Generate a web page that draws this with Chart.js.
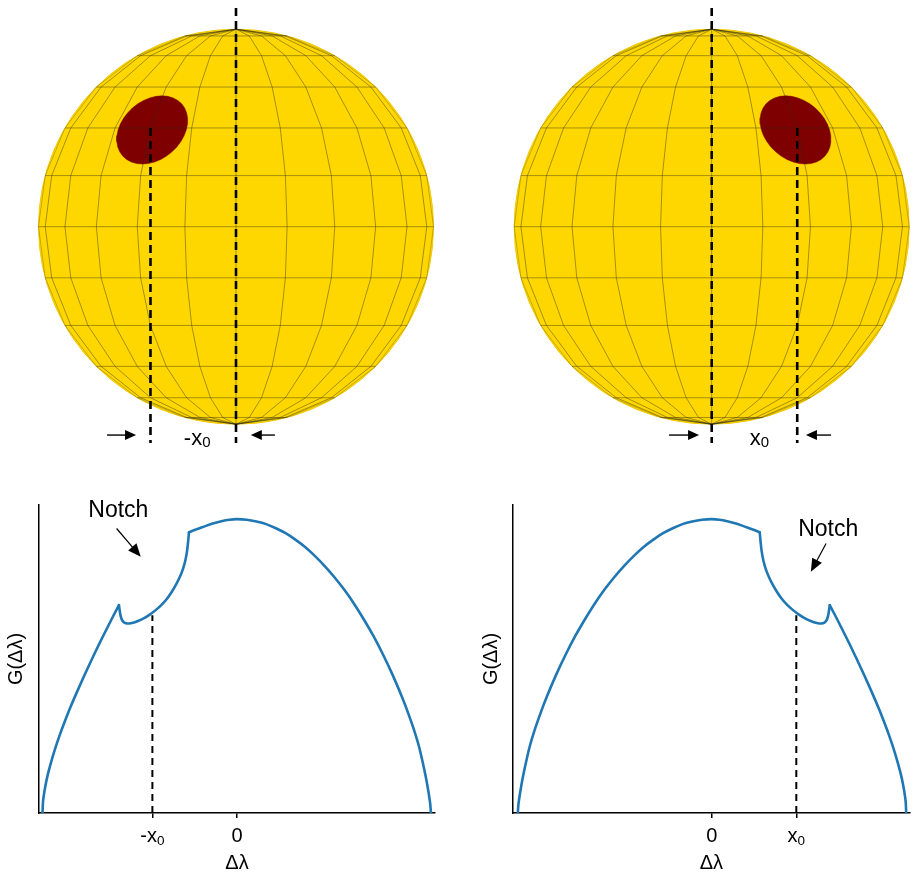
<!DOCTYPE html>
<html>
<head>
<meta charset="utf-8">
<script src="https://cdn.jsdelivr.net/npm/chart.js@4.4.1/dist/chart.umd.min.js"></script>
<style>
  html, body { margin: 0; padding: 0; background: #ffffff; }
  #wrap { position: relative; width: 918px; height: 879px; overflow: hidden; background: #fff; }
  #wrap canvas { position: absolute; }
</style>
</head>
<body>
<div id="wrap">
  <canvas id="sphereL" width="459" height="460" style="left:0px;top:0px"></canvas>
  <canvas id="sphereR" width="459" height="460" style="left:459px;top:0px"></canvas>
  <canvas id="profL" width="459" height="389" style="left:0px;top:490px"></canvas>
  <canvas id="profR" width="459" height="389" style="left:459px;top:490px"></canvas>
</div>
<script>
// ---------------- DATA ----------------
// Sphere grid (degrees) — faceted latitude/longitude mesh seen equator-on
const parallelLatitudes = [-75, -60, -45, -30, -15, 0, 15, 30, 45, 60, 75];
const meridianLongitudes = [-90, -75, -60, -45, -30, -15, 0, 15, 30, 45, 60, 75, 90];
const meridianNodeLatitudes = [-90, -75, -60, -45, -30, -15, 0, 15, 30, 45, 60, 75, 90];
// Star spot (degrees)
const spotLatitude = 30;
const spotLongitudeLeft = -30;
const spotLongitudeRight = 30;
const spotRadiusDeg = 11.5;
const spotOutlineAngles = [0, 10, 20, 30, 40, 50, 60, 70, 80, 90, 100, 110, 120, 130, 140, 150, 160, 170,
  180, 190, 200, 210, 220, 230, 240, 250, 260, 270, 280, 290, 300, 310, 320, 330, 340, 350, 360];
// Vertical guide lines (units of stellar radius)
const guideTop = 1.107;
const guideBottom = -1.095;

// Line profiles G(Δλ) (Δλ in units of v sin i, G normalised to the peak)
const x0 = 0.435;
const markerTopG = 0.673;
const leftDeltaLambda = [
  -1.000, -0.998, -0.993, -0.985, -0.972, -0.955, -0.935, -0.912, -0.885, -0.855, -0.822, -0.785,
  -0.745, -0.705, -0.665, -0.635, -0.607,
  -0.601, -0.594, -0.585, -0.572, -0.555, -0.535, -0.510, -0.480, -0.447, -0.415, -0.387, -0.360,
  -0.336, -0.313, -0.293, -0.278, -0.266, -0.257, -0.251, -0.247,
  -0.225, -0.200, -0.160, -0.120, -0.080, -0.040, 0.000, 0.050, 0.100, 0.150, 0.200, 0.250, 0.300,
  0.350, 0.400, 0.450, 0.500, 0.550, 0.600, 0.650, 0.700, 0.750, 0.800, 0.850, 0.880, 0.910, 0.935,
  0.955, 0.970, 0.981, 0.989, 0.994, 0.997];
const leftG = [
  0.000, 0.032, 0.061, 0.093, 0.133, 0.175, 0.219, 0.264, 0.312, 0.362, 0.413, 0.468,
  0.525, 0.580, 0.633, 0.672, 0.707,
  0.680, 0.661, 0.651, 0.646, 0.645, 0.647, 0.653, 0.662, 0.676, 0.692, 0.709, 0.729,
  0.752, 0.778, 0.805, 0.830, 0.858, 0.890, 0.925, 0.955,
  0.961, 0.967, 0.977, 0.986, 0.993, 0.998, 1.000, 0.998, 0.992, 0.983, 0.969, 0.952, 0.930,
  0.905, 0.875, 0.841, 0.803, 0.761, 0.714, 0.661, 0.604, 0.540, 0.470, 0.392, 0.340, 0.283, 0.228,
  0.172, 0.125, 0.085, 0.052, 0.027, 0.000];
const leftBreaks = [16, 36];   // spike, top of the jump
const rightDeltaLambda = [
  -0.997, -0.994, -0.989, -0.981, -0.970, -0.955, -0.935, -0.910, -0.880, -0.850, -0.800, -0.750,
  -0.700, -0.650, -0.600, -0.550, -0.500, -0.450, -0.400, -0.350, -0.300, -0.250, -0.200, -0.150,
  -0.100, -0.050, 0.000, 0.040, 0.080, 0.120, 0.160, 0.200, 0.225,
  0.247, 0.251, 0.257, 0.266, 0.278, 0.293, 0.313, 0.336, 0.360, 0.387, 0.415, 0.447, 0.480,
  0.510, 0.535, 0.555, 0.572, 0.585, 0.594, 0.601,
  0.607, 0.635, 0.665, 0.705, 0.745, 0.785, 0.822, 0.855, 0.885, 0.912, 0.935, 0.955, 0.972,
  0.985, 0.993, 0.998, 1.000];
const rightG = [
  0.000, 0.027, 0.052, 0.085, 0.125, 0.172, 0.228, 0.283, 0.340, 0.392, 0.470, 0.540,
  0.604, 0.661, 0.714, 0.761, 0.803, 0.841, 0.875, 0.905, 0.930, 0.952, 0.969, 0.983,
  0.992, 0.998, 1.000, 0.998, 0.993, 0.986, 0.977, 0.967, 0.961,
  0.955, 0.925, 0.890, 0.858, 0.830, 0.805, 0.778, 0.752, 0.729, 0.709, 0.692, 0.676, 0.662,
  0.653, 0.647, 0.645, 0.646, 0.651, 0.661, 0.680,
  0.707, 0.672, 0.633, 0.580, 0.525, 0.468, 0.413, 0.362, 0.312, 0.264, 0.219, 0.175, 0.133,
  0.093, 0.061, 0.032, 0.000];
const rightBreaks = [33, 53];  // top of the jump, spike
const leftTickValues = [-x0, 0];
const leftTickLabels = [[{ t: '-x' }, { t: '0', sub: true }], [{ t: '0' }]];
const rightTickValues = [0, x0];
const rightTickLabels = [[{ t: '0' }], [{ t: 'x' }, { t: '0', sub: true }]];

// ---------------- STYLE / LAYOUT ----------------
const FONT = "'Liberation Sans', Arial, Helvetica, sans-serif";
const GOLD = '#FFD700';
const SPOT = '#7F0000';
const GRID = 'rgba(40,40,30,0.55)';
const RIM = 'rgba(40,40,30,0.35)';
const BLUE = '#1f77b4';
const SPHERE_R_PX = 197.5, SPHERE_CY_PX = 226.7, SPHERE_H = 460, SPHERE_W = 459;
const D = Math.PI / 180;

function project(latDeg, lonDeg) {
  const la = latDeg * D, lo = lonDeg * D;
  return { x: Math.cos(la) * Math.sin(lo), y: Math.sin(la) };
}
function spotOutline(lat, lon, rad) {
  const la = lat * D, lo = lon * D, r = rad * D;
  const c = [Math.cos(la) * Math.sin(lo), Math.sin(la)];
  const e1 = [Math.cos(lo), 0];
  const e2 = [-Math.sin(la) * Math.sin(lo), Math.cos(la)];
  return spotOutlineAngles.map(t => {
    const k1 = Math.sin(r) * Math.cos(t * D), k2 = Math.sin(r) * Math.sin(t * D);
    return { x: Math.cos(r) * c[0] + k1 * e1[0] + k2 * e2[0], y: Math.cos(r) * c[1] + k1 * e1[1] + k2 * e2[1] };
  });
}

function drawParts(ctx, parts, cx, baseY, size, subSize, subDy) {
  const fonts = parts.map(p => (p.sub ? subSize : size) + 'px ' + FONT);
  const widths = parts.map((p, i) => { ctx.font = fonts[i]; return ctx.measureText(p.t).width; });
  const total = widths.reduce((a, b) => a + b, 0);
  let x = cx - total / 2;
  ctx.textAlign = 'left'; ctx.textBaseline = 'alphabetic'; ctx.fillStyle = '#000';
  parts.forEach((p, i) => { ctx.font = fonts[i]; ctx.fillText(p.t, x, baseY + (p.sub ? subDy : 0)); x += widths[i]; });
}

const sketchNotes = {
  id: 'sketchNotes',
  afterDatasetsDraw(chart, _args, opts) {
    const { ctx } = chart;
    const sx = chart.scales.x, sy = chart.scales.y;
    const px = v => sx.getPixelForValue(v), py = v => sy.getPixelForValue(v);
    ctx.save();
    for (const a of (opts.arrows || [])) {
      const x1 = px(a.from[0]), y1 = py(a.from[1]), x2 = px(a.to[0]), y2 = py(a.to[1]);
      const dx = x2 - x1, dy = y2 - y1, len = Math.hypot(dx, dy), ux = dx / len, uy = dy / len;
      const L = a.head, W = a.half;
      ctx.strokeStyle = '#000'; ctx.lineWidth = a.width; ctx.lineCap = 'butt';
      ctx.beginPath(); ctx.moveTo(x1, y1); ctx.lineTo(x2 - ux * L * 0.7, y2 - uy * L * 0.7); ctx.stroke();
      ctx.fillStyle = '#000';
      ctx.beginPath(); ctx.moveTo(x2, y2);
      ctx.lineTo(x2 - ux * L - uy * W, y2 - uy * L + ux * W);
      ctx.lineTo(x2 - ux * L + uy * W, y2 - uy * L - ux * W);
      ctx.closePath(); ctx.fill();
    }
    for (const t of (opts.texts || [])) {
      drawParts(ctx, t.parts, px(t.x), py(t.y) + (t.dy || 0), t.size, t.subSize || t.size, t.subDy || 0);
    }
    ctx.restore();
  }
};

function sphereChart(id, cxPx, spotLon, notes) {
  const spotCenter = project(spotLatitude, spotLon);
  const datasets = [];
  datasets.push({
    data: [{ x: 0, y: 0 }], order: 10, showLine: false,
    pointRadius: c => c.chart.scales.x.getPixelForValue(1) - c.chart.scales.x.getPixelForValue(0),
    pointBackgroundColor: GOLD, pointBorderColor: '#F2C800', pointBorderWidth: 1, clip: false
  });
  datasets.push({
    data: spotOutline(spotLatitude, spotLon, spotRadiusDeg), order: 9, showLine: true,
    fill: 'shape', backgroundColor: SPOT, borderColor: SPOT, borderWidth: 0.5, pointRadius: 0
  });
  meridianLongitudes.forEach(lon => datasets.push({
    data: meridianNodeLatitudes.map(lat => project(lat, lon)), order: 8, showLine: true,
    borderColor: Math.abs(lon) === 90 ? RIM : GRID, borderWidth: 0.75, pointRadius: 0, fill: false
  }));
  parallelLatitudes.forEach(lat => datasets.push({
    data: [project(lat, -90), project(lat, 90)], order: 8, showLine: true,
    borderColor: GRID, borderWidth: 0.75, pointRadius: 0, fill: false
  }));
  datasets.push({
    data: [{ x: 0, y: guideTop }, { x: 0, y: guideBottom }], order: 1, showLine: true,
    borderColor: '#000', borderWidth: 2.6, borderDash: [8, 5], pointRadius: 0, fill: false, clip: false
  });
  datasets.push({
    data: [{ x: spotCenter.x, y: spotCenter.y }, { x: spotCenter.x, y: guideBottom }], order: 1, showLine: true,
    borderColor: '#000', borderWidth: 2.6, borderDash: [8, 5], pointRadius: 0, fill: false, clip: false
  });
  return new Chart(document.getElementById(id), {
    type: 'scatter',
    data: { datasets },
    plugins: [sketchNotes],
    options: {
      responsive: false, animation: false, events: [],
      layout: { padding: 0 },
      scales: {
        x: { type: 'linear', display: false, min: -cxPx / SPHERE_R_PX, max: (SPHERE_W - cxPx) / SPHERE_R_PX },
        y: { type: 'linear', display: false, min: -(SPHERE_H - SPHERE_CY_PX) / SPHERE_R_PX, max: SPHERE_CY_PX / SPHERE_R_PX }
      },
      plugins: { legend: { display: false }, tooltip: { enabled: false }, sketchNotes: notes }
    }
  });
}

function segmentsOf(xs, ys, breaks) {
  const cuts = [0, ...breaks, xs.length - 1], segs = [];
  for (let i = 0; i < cuts.length - 1; i++) {
    const pts = [];
    for (let j = cuts[i]; j <= cuts[i + 1]; j++) pts.push({ x: xs[j], y: ys[j] });
    segs.push(pts);
  }
  return segs;
}

function profileChart(id, xs, ys, breaks, markerX, tickValues, tickLabels, xmin, xmax, padLeft, yWidth, padRight, notes) {
  const datasets = segmentsOf(xs, ys, breaks).map(pts => ({
    data: pts, showLine: true, borderColor: BLUE, borderWidth: 2.6, pointRadius: 0,
    cubicInterpolationMode: 'monotone', borderCapStyle: 'round', borderJoinStyle: 'round', fill: false, order: 1
  }));
  datasets.push({
    data: [{ x: markerX, y: 0 }, { x: markerX, y: markerTopG }], showLine: true, borderColor: '#000',
    borderWidth: 2, borderDash: [7, 5], pointRadius: 0, fill: false, order: 2
  });
  const tickTexts = tickValues.map((v, i) => ({ parts: tickLabels[i], x: v, y: 0, dy: 28.7, size: 20, subSize: 13.5, subDy: 3.5 }));
  notes.texts = (notes.texts || []).concat(tickTexts);
  return new Chart(document.getElementById(id), {
    type: 'scatter',
    data: { datasets },
    plugins: [sketchNotes],
    options: {
      responsive: false, animation: false, events: [],
      layout: { padding: { left: padLeft, right: padRight, top: 15, bottom: 0 } },
      scales: {
        x: {
          type: 'linear', min: xmin, max: xmax,
          afterBuildTicks: s => { s.ticks = tickValues.map(v => ({ value: v })); },
          ticks: { display: false, autoSkip: false, maxRotation: 0 },
          grid: { display: true, drawOnChartArea: false, drawTicks: true, tickLength: 5, color: '#000', lineWidth: 1.5 },
          border: { display: true, color: '#000', width: 1.5 },
          title: { display: true, text: '\u0394\u03BB', color: '#000', font: { family: FONT, size: 20 }, padding: { top: 0, bottom: 4 } },
          afterFit: s => { s.height = 66; }
        },
        y: {
          type: 'linear', min: 0, max: 1.048,
          ticks: { display: false }, grid: { display: false },
          border: { display: true, color: '#000', width: 1.5 },
          title: { display: true, text: 'G(\u0394\u03BB)', color: '#000', font: { family: FONT, size: 20 }, padding: { top: 4, bottom: 0 } },
          afterFit: s => { s.width = yWidth; }
        }
      },
      plugins: { legend: { display: false }, tooltip: { enabled: false }, sketchNotes: notes }
    }
  });
}

// ---------------- CHARTS ----------------
const spotL = project(spotLatitude, spotLongitudeLeft).x;
const spotR = project(spotLatitude, spotLongitudeRight).x;
sphereChart('sphereL', 236, spotLongitudeLeft, {
  arrows: [
    { from: [-0.653, -1.055], to: [-0.506, -1.055], head: 11, half: 5, width: 1.4 },
    { from: [0.197, -1.055], to: [0.075, -1.055], head: 11, half: 5, width: 1.4 }
  ],
  texts: [{ parts: [{ t: '-x' }, { t: '0', sub: true }], x: spotL / 2 + 0.02, y: -1.105, size: 22, subSize: 15, subDy: 2 }]
});
sphereChart('sphereR', 252.7, spotLongitudeRight, {
  arrows: [
    { from: [-0.216, -1.055], to: [-0.064, -1.055], head: 11, half: 5, width: 1.4 },
    { from: [0.604, -1.055], to: [0.477, -1.055], head: 11, half: 5, width: 1.4 }
  ],
  texts: [{ parts: [{ t: 'x' }, { t: '0', sub: true }], x: spotR / 2 + 0.025, y: -1.103, size: 22, subSize: 15, subDy: 2 }]
});
profileChart('profL', leftDeltaLambda, leftG, leftBreaks, -x0, leftTickValues, leftTickLabels,
  -1.018, 1.018, 0, 39, 24, {
    arrows: [{ from: [-0.619, 0.968], to: [-0.495, 0.872], head: 13, half: 5.5, width: 1.2 }],
    texts: [{ parts: [{ t: 'Notch' }], x: -0.610, y: 1.008, size: 23 }]
  });
profileChart('profR', rightDeltaLambda, rightG, rightBreaks, x0, rightTickValues, rightTickLabels,
  -1.0216, 1.018, 16, 38, 8.3, {
    arrows: [{ from: [0.588, 0.917], to: [0.510, 0.821], head: 13, half: 5.5, width: 1.2 }],
    texts: [{ parts: [{ t: 'Notch' }], x: 0.599, y: 0.942, size: 23 }]
  });
</script>
</body>
</html>
